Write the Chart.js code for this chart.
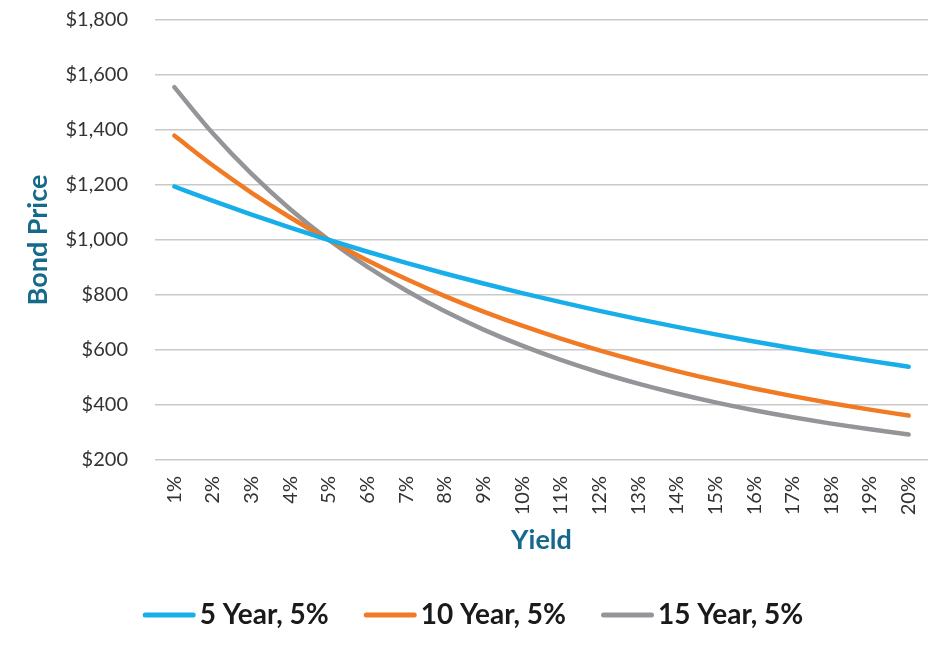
<!DOCTYPE html>
<html>
<head>
<meta charset="utf-8">
<script src="https://cdn.jsdelivr.net/npm/chart.js@4.4.0/dist/chart.umd.min.js"></script>
<style>
html,body{margin:0;padding:0;background:#fff;}
#wrap{width:950px;height:646px;}
</style>
</head>
<body>
<div id="wrap"><canvas id="c" width="950" height="646"></canvas></div>
<script>
const yields = ["1%","2%","3%","4%","5%","6%","7%","8%","9%","10%","11%","12%","13%","14%","15%","16%","17%","18%","19%","20%"];
const fiveYear = [1194.6,1142.1,1092.2,1044.9,1000,957.3,916.8,878.3,841.7,807.0,773.9,742.4,712.4,684.0,656.8,630.9,606.3,582.8,560.5,539.2];
const tenYear = [1379.7,1270.7,1171.7,1081.8,1000,925.6,857.9,796.1,739.8,688.4,641.5,598.6,559.3,523.3,490.3,460.0,432.2,406.6,383.2,361.5];
const fifteenYear = [1555.9,1387.1,1240.2,1112.0,1000,902.0,816.1,740.6,674.2,615.7,564.0,518.2,477.7,441.6,409.5,380.8,355.2,332.2,311.5,293.0];
const seriesNames = ["5 Year, 5%","10 Year, 5%","15 Year, 5%"];
const colors = ["#18AEEA","#F07B24","#939598"];

const font = "Lato, 'Open Sans', sans-serif";
const titleColor = "#15698A";

// Bottom legend: line marker + bold label, drawn from the chart's datasets
const legendPlugin = {
  id: 'lineLegend',
  afterDraw(chart) {
    const ctx = chart.ctx;
    const LINE = 53, GAP = 4, SPACE = 35, cx = 473, yLine = 615, yText = 624;
    ctx.save();
    ctx.font = "bold 28px " + font;
    const items = chart.data.datasets.map(ds => ({
      text: ds.label, color: ds.borderColor, w: ctx.measureText(ds.label).width
    }));
    const total = items.reduce((s, it) => s + LINE + GAP + it.w, 0) + SPACE * (items.length - 1);
    let x = cx - total / 2;
    items.forEach(it => {
      ctx.strokeStyle = it.color;
      ctx.lineWidth = 5;
      ctx.lineCap = 'round';
      ctx.beginPath();
      ctx.moveTo(x + 2.5, yLine);
      ctx.lineTo(x + LINE - 2.5, yLine);
      ctx.stroke();
      x += LINE + GAP;
      ctx.fillStyle = '#1a1a1a';
      ctx.textBaseline = 'alphabetic';
      ctx.textAlign = 'left';
      ctx.fillText(it.text, x, yText);
      x += it.w + SPACE;
    });
    ctx.restore();
  }
};

new Chart(document.getElementById('c'), {
  type: 'line',
  data: {
    labels: yields,
    datasets: [fiveYear, tenYear, fifteenYear].map((d, i) => ({
      label: seriesNames[i],
      data: d,
      borderColor: colors[i],
      backgroundColor: colors[i],
      borderWidth: 4.5,
      pointRadius: 0,
      tension: 0.4,
      cubicInterpolationMode: 'monotone',
      borderCapStyle: 'round',
      fill: false
    }))
  },
  plugins: [legendPlugin],
  options: {
    responsive: false,
    animation: false,
    layout: { padding: { left: 22, right: 22, top: 20, bottom: 90 } },
    plugins: {
      tooltip: { enabled: false },
      legend: { display: false }
    },
    scales: {
      x: {
        offset: true,
        grid: { display: false },
        border: { display: false },
        ticks: {
          minRotation: 90, maxRotation: 90,
          font: { family: font, size: 20 },
          color: '#333',
          padding: 8
        },
        title: {
          display: true, text: 'Yield',
          font: { family: font, size: 27, weight: 'bold' },
          color: titleColor,
          padding: { top: 6, bottom: 0 }
        },
        afterFit(scale) { scale.height = 96; scale.paddingLeft = 0; scale.paddingRight = 0; }
      },
      y: {
        min: 200, max: 1800,
        border: { display: false },
        grid: { color: '#c9c9c9', lineWidth: 1.5, drawTicks: false },
        ticks: {
          stepSize: 200,
          font: { family: font, size: 20 },
          color: '#333',
          padding: 27,
          callback: v => '$' + v.toLocaleString('en-US')
        },
        title: {
          display: true, text: 'Bond Price',
          font: { family: font, size: 27, weight: 'bold' },
          color: titleColor,
          padding: { top: 0, bottom: 10 }
        },
        afterFit(scale) { scale.width = 133; scale.paddingTop = 0; scale.paddingBottom = 0; }
      }
    }
  }
});
</script>
</body>
</html>
